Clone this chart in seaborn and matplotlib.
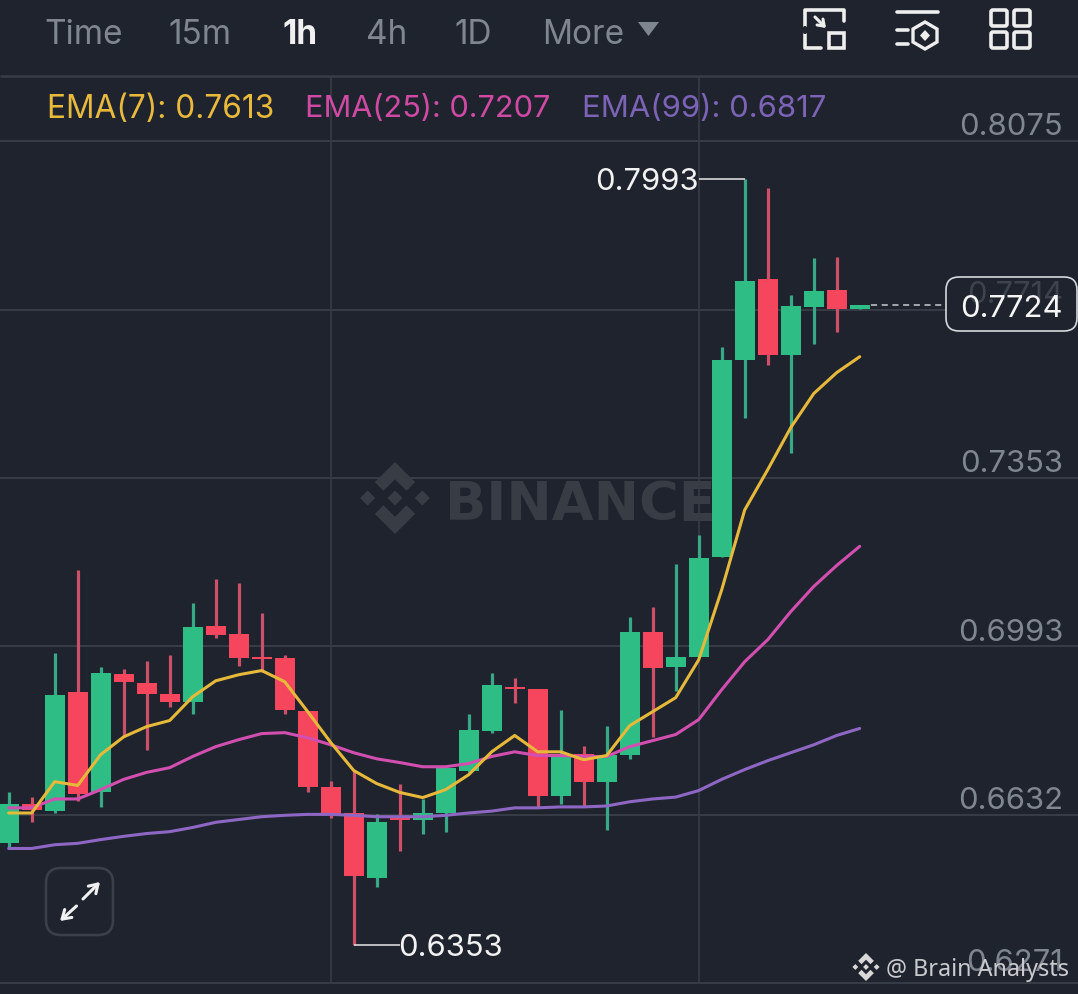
import pandas as pd
import matplotlib.pyplot as plt
from matplotlib.patches import FancyBboxPatch, Polygon, Rectangle
import seaborn as sns

# candles (1h)
opens = [0.6572, 0.6655, 0.6640, 0.6895, 0.6681, 0.6934, 0.6915, 0.6891, 0.6874, 0.7037, 0.7020, 0.6970, 0.6968,
         0.6855, 0.6692, 0.6636, 0.6497, 0.6625, 0.6621, 0.6636, 0.6725, 0.6812, 0.6906, 0.6902, 0.6673, 0.6763,
         0.6703, 0.6761, 0.7024, 0.6949, 0.6970, 0.7185, 0.7606, 0.7780, 0.7617, 0.7720, 0.7756, 0.7716]
highs = [0.6681, 0.6670, 0.6979, 0.7156, 0.6949, 0.6945, 0.6961, 0.6974, 0.7086, 0.7138, 0.7129, 0.7065, 0.6974,
         0.6855, 0.6705, 0.6729, 0.6633, 0.6698, 0.6666, 0.6733, 0.6847, 0.6936, 0.6925, 0.6902, 0.6857, 0.6780,
         0.6823, 0.7056, 0.7078, 0.7170, 0.7232, 0.7634, 0.7993, 0.7974, 0.7745, 0.7825, 0.7827, 0.7724]
lows = [0.6561, 0.6617, 0.6636, 0.6662, 0.6649, 0.6799, 0.6771, 0.6863, 0.6847, 0.7011, 0.6951, 0.6938, 0.6847,
        0.6680, 0.6625, 0.6353, 0.6478, 0.6555, 0.6592, 0.6596, 0.6723, 0.6808, 0.6872, 0.6649, 0.6655, 0.6651,
        0.6600, 0.6752, 0.6799, 0.6898, 0.6970, 0.7185, 0.7482, 0.7596, 0.7407, 0.7641, 0.7666, 0.7716]
closes = [0.6655, 0.6643, 0.6889, 0.6677, 0.6936, 0.6917, 0.6891, 0.6874, 0.7035, 0.7018, 0.6968, 0.6966, 0.6857,
          0.6692, 0.6633, 0.6500, 0.6617, 0.6621, 0.6636, 0.6733, 0.6814, 0.6909, 0.6902, 0.6673, 0.6757, 0.6703,
          0.6761, 0.7024, 0.6947, 0.6970, 0.7182, 0.7606, 0.7775, 0.7617, 0.7722, 0.7754, 0.7716, 0.7724]

ema7 = [0.6636, 0.6636, 0.6703, 0.6695, 0.6761, 0.6799, 0.6821, 0.6834, 0.6885, 0.6919, 0.6932, 0.6941, 0.6917,
        0.6853, 0.6787, 0.6727, 0.6699, 0.6680, 0.6669, 0.6686, 0.6718, 0.6767, 0.6802, 0.6767, 0.6767, 0.6750,
        0.6759, 0.6823, 0.6853, 0.6883, 0.6964, 0.7114, 0.7285, 0.7371, 0.7461, 0.7534, 0.7579, 0.7613]
ema25 = [0.6647, 0.6647, 0.6666, 0.6666, 0.6686, 0.6708, 0.6723, 0.6733, 0.6757, 0.6778, 0.6793, 0.6806, 0.6808,
         0.6797, 0.6782, 0.6765, 0.6752, 0.6744, 0.6735, 0.6735, 0.6742, 0.6757, 0.6767, 0.6759, 0.6759, 0.6757,
         0.6757, 0.6778, 0.6791, 0.6804, 0.6836, 0.6900, 0.6960, 0.7007, 0.7067, 0.7121, 0.7166, 0.7207]
ema99 = [0.6560, 0.6560, 0.6568, 0.6571, 0.6579, 0.6586, 0.6592, 0.6596, 0.6605, 0.6616, 0.6622, 0.6628, 0.6631,
         0.6633, 0.6633, 0.6631, 0.6628, 0.6628, 0.6628, 0.6631, 0.6636, 0.6640, 0.6647, 0.6647, 0.6649, 0.6649,
         0.6651, 0.6660, 0.6666, 0.6670, 0.6684, 0.6708, 0.6729, 0.6748, 0.6765, 0.6782, 0.6802, 0.6817]

price_ticks = [0.8075, 0.7714, 0.7353, 0.6993, 0.6632, 0.6271]
tick_labels = ['0.8075', '0.7714', '0.7353', '0.6993', '0.6632', '0.6271']
tabs = ['Time', '15m', '1h', '4h', '1D', 'More']
last_price = 0.7724
max_price = 0.7993
min_price = 0.6353

BG = '#1e232e'
GRID = '#373c46'
GREEN = '#2ebd85'
RED = '#f6465d'
WICK_GREEN = '#38a987'
WICK_RED = '#cb5068'
GREY = '#80868f'
FONT = ['Inter', 'DejaVu Sans']

sns.set_theme(style='dark', rc={'figure.facecolor': BG, 'axes.facecolor': BG})
plt.rcParams['font.family'] = FONT

df = pd.DataFrame({'i': range(len(opens)), 'open': opens, 'high': highs, 'low': lows, 'close': closes,
                   'ema7': ema7, 'ema25': ema25, 'ema99': ema99})
up = df['close'] >= df['open']

fig = plt.figure(figsize=(10.78, 9.95), dpi=100)


def layer(xlim, ylim, facecolor='none'):
    a = fig.add_axes([0, 0, 1, 1], facecolor=facecolor)
    a.set_xlim(*xlim)
    a.set_ylim(*ylim)
    a.set_xticks([])
    a.set_yticks([])
    for s in a.spines.values():
        s.set_visible(False)
    return a


def binance_logo(a, cx, cy, r, color, z=2):
    small = 0.21
    top = [(0, 1), (0.56, 0.44), (0.32, 0.2), (0, 0.52), (-0.32, 0.2), (-0.56, 0.44)]
    shapes = [top, [(x, -y) for x, y in top]]
    for dx in (-0.76, 0, 0.76):
        shapes.append([(dx, small), (dx + small, 0), (dx, -small), (dx - small, 0)])
    for pts in shapes:
        a.add_patch(Polygon([(cx + x * r, cy - y * r) for x, y in pts], fc=color, ec='none', zorder=z))


# back layer, pixel coords: watermark
back = layer((0, 1078), (995, 0), BG)
binance_logo(back, 395, 499, 36, '#373c45')
back.text(445, 505, 'BINANCE', color='#373c45', fontsize=39, fontweight='bold', va='center', ha='left',
          family='DejaVu Sans')

# chart layer: price and candle index scales
ax = layer((-0.378, 46.49), (0.62484, 0.83789))
ax.hlines(price_ticks, -1, 47, color=GRID, lw=1.4, zorder=1)
ax.vlines([14, 30], 0.6271, 0.8215, color=GRID, lw=1.2, zorder=1)

ax.vlines(df['i'], df['low'], df['high'], color=[WICK_GREEN if u else WICK_RED for u in up], lw=2.3, zorder=2)
ax.bar(df['i'], (df['close'] - df['open']).abs().clip(lower=0.0003), bottom=df[['open', 'close']].min(axis=1),
       width=0.87, color=[GREEN if u else RED for u in up], linewidth=0, zorder=3)

sns.lineplot(data=df, x='i', y='ema99', color='#8e67c4', lw=2.2, ax=ax, zorder=4)
sns.lineplot(data=df, x='i', y='ema25', color='#d24fb0', lw=2.2, ax=ax, zorder=4)
sns.lineplot(data=df, x='i', y='ema7', color='#e7b93a', lw=2.2, ax=ax, zorder=5)
ax.set_xlabel('')
ax.set_ylabel('')
ax.set_xlim(-0.378, 46.49)
ax.set_ylim(0.62484, 0.83789)

# high / low callouts
ax.hlines(max_price, 30, 32, color='#e8e8e8', lw=1.1, zorder=6)
ax.hlines(min_price, 15, 17, color='#e8e8e8', lw=1.1, zorder=6)
ui_y = 3
ax.text(30, max_price - 0.0004, f'{max_price:.4f}', color='#f2f2f2', fontsize=22.3, ha='right', va='center')
ax.text(16.92, min_price - 0.0004, f'{min_price:.4f}', color='#f2f2f2', fontsize=22.3, ha='left', va='center')
ax.hlines(last_price, 37.5, 40.8, color='#c9ccd1', lw=1.1, ls=(0, (4, 3)), zorder=6)

# top layer, pixel coords: tabs, legend, icons
ui = layer((0, 1078), (995, 0))
ui.hlines(77, 0, 1078, color=GRID, lw=1.8)

tab_x = [44, 168, 283, 366, 454, 542]
for name, x in zip(tabs, tab_x):
    active = name == '1h'
    ui.text(x, 32 + ui_y, name, color='#f0f0f0' if active else GREY, fontsize=24, va='center', ha='left',
            fontweight='bold' if active else 'normal')
ui.add_patch(Polygon([(638, 23), (659, 23), (648.5, 37)], fc=GREY, ec='none'))

for label, x, c, size in [(f'EMA(7): {ema7[-1]:.4f}', 47, '#e9b93c', 22.8),
                          (f'EMA(25): {ema25[-1]:.4f}', 305, '#d04aa4', 22.1),
                          (f'EMA(99): {ema99[-1]:.4f}', 582, '#7c63b6', 22.4)]:
    ui.text(x, 106 + ui_y, label, color=c, fontsize=size, va='center', ha='left')

# axis labels sit above their grid lines
label_y = [124, 292, 461, 630, 798, 960]
for t, y in zip(tick_labels, label_y):
    if t != '0.7714':
        ui.text(1063, y + ui_y, t, color=GREY, fontsize=22.3, va='center', ha='right')

# last price box
ui.add_patch(FancyBboxPatch((946, 278), 131, 54, boxstyle='round,pad=0,rounding_size=13', mutation_scale=1,
                            fc=BG, ec='#d5d8dc', lw=1.2, zorder=5))
ui.text(1063, 292 + ui_y, '0.7714', color='#3d424c', fontsize=22.3, va='center', ha='right', zorder=6)
ui.text(1063, 306 + ui_y, f'{last_price:.4f}', color='#f5f5f5', fontsize=22.3, va='center', ha='right', zorder=7)

# toolbar icons
ICON = '#eeeeee'
ik = dict(color=ICON, lw=2.6, solid_capstyle='round', solid_joinstyle='round')
ui.plot([844, 844, 805, 805, 821], [22, 11, 11, 49, 49], **ik)
ui.plot([805, 805], [29, 33], color=BG, lw=3)
ui.add_patch(Rectangle((829, 34), 15, 15, fc='none', ec=ICON, lw=2.6))
ui.annotate('', xy=(826, 29), xytext=(815, 18),
            arrowprops=dict(arrowstyle='->,head_length=0.35,head_width=0.25', color=ICON, lw=2.2, shrinkA=0, shrinkB=0))

ui.plot([897, 938], [13, 13], **ik)
ui.plot([897, 908], [31, 31], **ik)
ui.plot([897, 908], [45, 45], **ik)
ui.add_patch(Polygon([(925, 23), (937, 30), (937, 43), (925, 50), (913, 43), (913, 30)], closed=True,
                     fc='none', ec=ICON, lw=2.4))
ui.add_patch(Polygon([(925, 31), (930, 36.5), (925, 42), (920, 36.5)], fc=ICON, ec='none'))

for x, y in [(991, 11), (1014, 11), (991, 33), (1014, 33)]:
    ui.add_patch(FancyBboxPatch((x, y), 16, 16, boxstyle='round,pad=0,rounding_size=2', mutation_scale=1,
                                fc='none', ec=ICON, lw=2.6))

# expand button
ui.add_patch(FancyBboxPatch((46, 869), 67, 67, boxstyle='round,pad=0,rounding_size=15', mutation_scale=1,
                            fc='none', ec='#3a3f49', lw=1.9))
for start, end in [((83, 900), (100, 883)), ((76.5, 907), (60, 922))]:
    ui.annotate('', xy=end, xytext=start,
                arrowprops=dict(arrowstyle='->,head_length=0.5,head_width=0.32', color='#f0f0f0', lw=2.2,
                                shrinkA=0, shrinkB=0))

# stamp in the corner
binance_logo(ui, 866, 968, 14, '#d8d8d8', z=8)
ui.text(886, 970, '@ Brain Analysts', color='#c9cbce', fontsize=16.8, va='center', ha='left', zorder=8,
        family=['Noto Sans', 'DejaVu Sans'])

fig.savefig('out.png', dpi=100, facecolor=BG)
